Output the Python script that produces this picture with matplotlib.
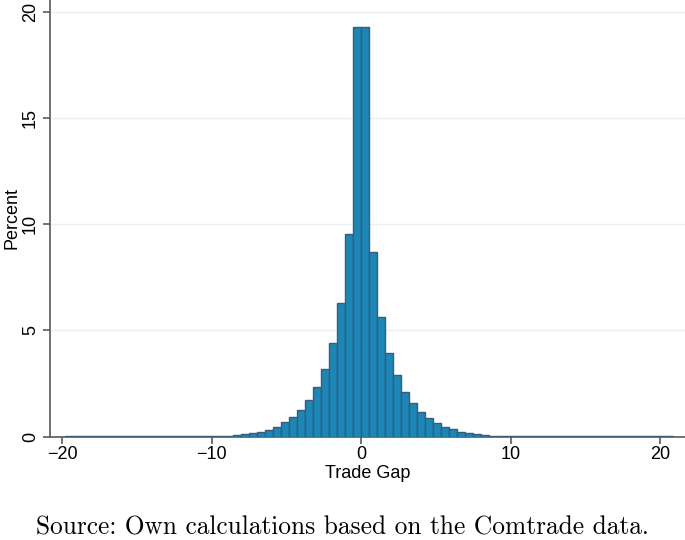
import numpy as np
import matplotlib
matplotlib.use("Agg")
import matplotlib.pyplot as plt

# histogram of the trade gap, percent per bin
bin_start = -19.795
bin_width = 0.535
percent = [
    0.02, 0.02, 0.02, 0.02, 0.02, 0.02, 0.02, 0.02, 0.02, 0.02,
    0.02, 0.02, 0.02, 0.02, 0.02, 0.02, 0.02, 0.02, 0.02, 0.03,
    0.04, 0.06, 0.11, 0.16, 0.22, 0.33, 0.47, 0.68, 0.91, 1.26,
    1.73, 2.35, 3.19, 4.42, 6.28, 9.54, 19.3, 19.3, 8.68, 5.62,
    3.96, 2.88, 2.11, 1.57, 1.14, 0.86, 0.63, 0.47, 0.35, 0.24,
    0.16, 0.11, 0.08, 0.05, 0.04, 0.03, 0.02, 0.02, 0.02, 0.02,
    0.02, 0.02, 0.02, 0.02, 0.02, 0.02, 0.02, 0.02, 0.02, 0.02,
    0.02, 0.02, 0.02, 0.02, 0.02, 0.02,
]
x_ticks = [-20, -10, 0, 10, 20]
y_ticks = [0, 5, 10, 15, 20]
source_note = "Source: Own calculations based on the Comtrade data."

plt.rcParams['font.family'] = ['Liberation Sans', 'DejaVu Sans']

fig = plt.figure(figsize=(6.85, 5.4), dpi=100)
ax = fig.add_axes([50 / 685, 1 - 436.7 / 540, 1 - 50 / 685, 436.7 / 540])

lefts = bin_start + bin_width * np.arange(len(percent))
ax.bar(lefts, percent, width=bin_width, align='edge',
       color='#1a87b9', edgecolor='#3f5a74', linewidth=1.0, zorder=3)

ax.set_xlim(-20.82, 21.65)
ax.set_ylim(0, 20.55)
ax.set_xticks(x_ticks)
ax.set_yticks(y_ticks)
ax.set_xticklabels([str(t).replace('-', '\u2212') for t in x_ticks])
ax.set_yticklabels([str(t) for t in y_ticks], rotation=90, va='center')

ax.grid(axis='y', color='#eaf0f3', linewidth=1.0, zorder=0)
for side in ['top', 'right']:
    ax.spines[side].set_visible(False)
for side in ['left', 'bottom']:
    ax.spines[side].set_color('#5a5a5a')
    ax.spines[side].set_linewidth(1.2)
ax.tick_params(colors='#5a5a5a', length=5, width=1.2, labelsize=13,
               labelcolor='black')
ax.tick_params(axis='y', pad=3)
ax.tick_params(axis='x', pad=2)

ax.set_xlabel("Trade Gap", fontsize=13, labelpad=1)
ax.set_ylabel("Percent", fontsize=13, labelpad=1)

fig.text(0.5, 1 - 528 / 540, source_note, ha='center', va='center',
         fontsize=18.3, family='cmr10')

fig.savefig("out.png", dpi=100)
